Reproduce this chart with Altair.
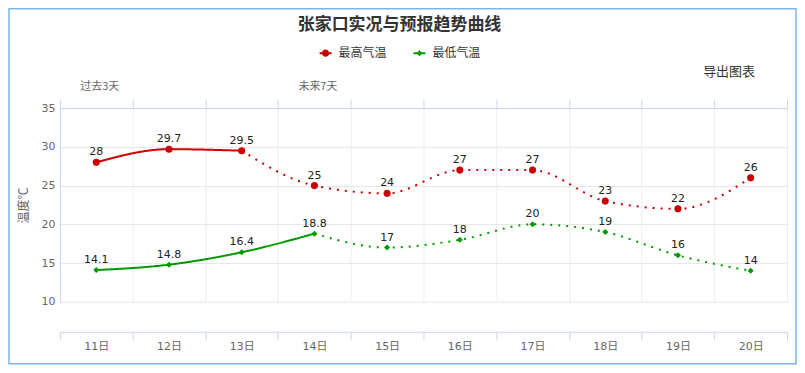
import altair as alt
import pandas as pd

# ---- data ----
days = ["11日", "12日", "13日", "14日", "15日", "16日", "17日", "18日", "19日", "20日"]
high = [28, 29.7, 29.5, 25, 24, 27, 27, 23, 22, 26]
low = [14.1, 14.8, 16.4, 18.8, 17, 18, 20, 19, 16, 14]
series_names = ["最高气温", "最低气温"]
series_colors = ["#cc0000", "#009900"]
series_shapes = ["circle", "diamond"]
series_sizes = [50, 36]
solid_until = [2, 3]  # last index drawn as a solid (observed) line
top_labels = {"11日": "过去3天", "14日": "未来7天"}
y_ticks = [10, 15, 20, 25, 30, 35]
title_text = "张家口实况与预报趋势曲线"
y_title = "温度℃"
export_label = "导出图表"

CJK = "Noto Sans CJK SC"
NUM = "DejaVu Sans, Noto Sans CJK SC"
AXIS_LINE = "#ccd6eb"


def fmt(v):
    return str(int(v)) if float(v).is_integer() else str(v)


rows = []
pts = []
for s, vals, k in zip(series_names, [high, low], solid_until):
    for i, (d, v) in enumerate(zip(days, vals)):
        if i <= k:
            rows.append(dict(series=s, seg="solid", day=d, order=i, value=v))
        if i >= k:
            rows.append(dict(series=s, seg="dotted", day=d, order=i, value=v))
        pts.append(dict(series=s, day=d, order=i, value=v, label=fmt(v)))
line_df = pd.DataFrame(rows)
pts_df = pd.DataFrame(pts)

x_bottom = alt.X(
    "day:N",
    scale=alt.Scale(domain=days, paddingInner=0, paddingOuter=0),
    axis=alt.Axis(
        title=None, orient="bottom", offset=30, tickBand="extent", tickSize=8,
        tickColor=AXIS_LINE, domainColor=AXIS_LINE, labelColor="#666666",
        labelFont=NUM, labelFontSize=11, labelPadding=1, labelAngle=0,
        grid=True, gridColor="#eeeeee",
    ),
)
y_enc = alt.Y(
    "value:Q",
    scale=alt.Scale(domain=[10, 35], nice=False, zero=False),
    axis=alt.Axis(
        title=y_title, values=y_ticks, ticks=False, tickSize=0, domain=True,
        domainColor=AXIS_LINE, labelColor="#666666", labelFont=NUM,
        labelFontSize=11, labelPadding=5, grid=True, gridColor="#e6e6e6",
        titleColor="#666666", titleFont=CJK, titleFontSize=12,
        titleFontWeight="normal", titlePadding=10,
    ),
)
dash = alt.StrokeDash(
    "seg:N",
    scale=alt.Scale(domain=["solid", "dotted"], range=[[1, 0], [2, 6]]),
    legend=None,
)

layers = []
for s, c in zip(series_names, series_colors):
    layers.append(
        alt.Chart(line_df)
        .transform_filter(alt.datum.series == s)
        .mark_line(interpolate="monotone", strokeWidth=2, color=c)
        .encode(x=x_bottom, y=y_enc, detail="seg:N", strokeDash=dash, order="order:Q")
    )
for s, c, sh, sz in zip(series_names, series_colors, series_shapes, series_sizes):
    layers.append(
        alt.Chart(pts_df)
        .transform_filter(alt.datum.series == s)
        .mark_point(filled=True, shape=sh, size=sz, color=c, opacity=1)
        .encode(x=x_bottom, y=y_enc)
    )
layers.append(
    alt.Chart(pts_df)
    .mark_text(dy=-10, font="DejaVu Sans", fontSize=11, color="#222222")
    .encode(x=x_bottom, y=y_enc, text="label:N")
)
inner = alt.layer(*layers)

expr = " : ".join(f"datum.value == '{k}' ? '{v}'" for k, v in top_labels.items()) + " : ''"
top_axis = (
    alt.Chart(pd.DataFrame({"day": days}))
    .transform_filter("false")
    .mark_point()
    .encode(
        x=alt.X(
            "day:N",
            scale=alt.Scale(domain=days, paddingInner=0, paddingOuter=0),
            axis=alt.Axis(
                orient="top", title=None, tickBand="extent", tickSize=9,
                tickColor=AXIS_LINE, domainColor=AXIS_LINE, labelExpr=expr,
                labelColor="#666666", labelFont=CJK, labelFontSize=11,
                labelPadding=8, labelAngle=0, grid=False, labelOffset=3,
            ),
        )
    )
)

path_circle = "M-1,-0.16H1V0.16H-1Z M0,-0.6A0.6,0.6,0,1,1,0,0.6A0.6,0.6,0,1,1,0,-0.6Z"
path_diamond = "M-1,-0.16H1V0.16H-1Z M0,-0.5L0.5,0L0,0.5L-0.5,0Z"
leg = alt.Legend(
    title=None, orient="none", legendX=260, legendY=-61, direction="horizontal",
    labelFont=CJK, labelFontSize=12, labelColor="#333333", labelOffset=7,
    columnPadding=26, symbolSize=144, symbolStrokeWidth=0, symbolOpacity=1,
)
legend_layer = (
    alt.Chart(pd.DataFrame({"series": series_names}))
    .transform_filter("false")
    .mark_point(filled=True, size=144)
    .encode(
        color=alt.Color("series:N", scale=alt.Scale(domain=series_names, range=series_colors), legend=leg),
        shape=alt.Shape("series:N", scale=alt.Scale(domain=series_names, range=[path_circle, path_diamond]), legend=leg),
    )
)

export_text = (
    alt.Chart(pd.DataFrame({"t": [export_label]}))
    .mark_text(font=CJK, fontSize=13, color="#333333")
    .encode(text="t:N", x=alt.value(670), y=alt.value(-36))
)
border = (
    alt.Chart(pd.DataFrame({"a": [0]}))
    .mark_rect(filled=False, stroke="#7cb5ec", strokeWidth=1.5)
    .encode(x=alt.value(-51), x2=alt.value(737), y=alt.value(-99.5), y2=alt.value(256))
)

chart = (
    alt.layer(inner, top_axis, legend_layer, export_text, border)
    .resolve_scale(x="independent")
    .properties(
        width=728, height=194,
        title=alt.TitleParams(
            text=title_text, font=CJK, fontSize=17, fontWeight="bold",
            color="#333333", anchor="middle", dx=-24, dy=30,
        ),
        autosize=alt.AutoSizeParams(type="none"),
        padding={"left": 52, "top": 100, "right": 10, "bottom": 63},
    )
    .configure_view(strokeWidth=0)
)

chart.save("out.html", embed_options={"renderer": "svg", "actions": False})
